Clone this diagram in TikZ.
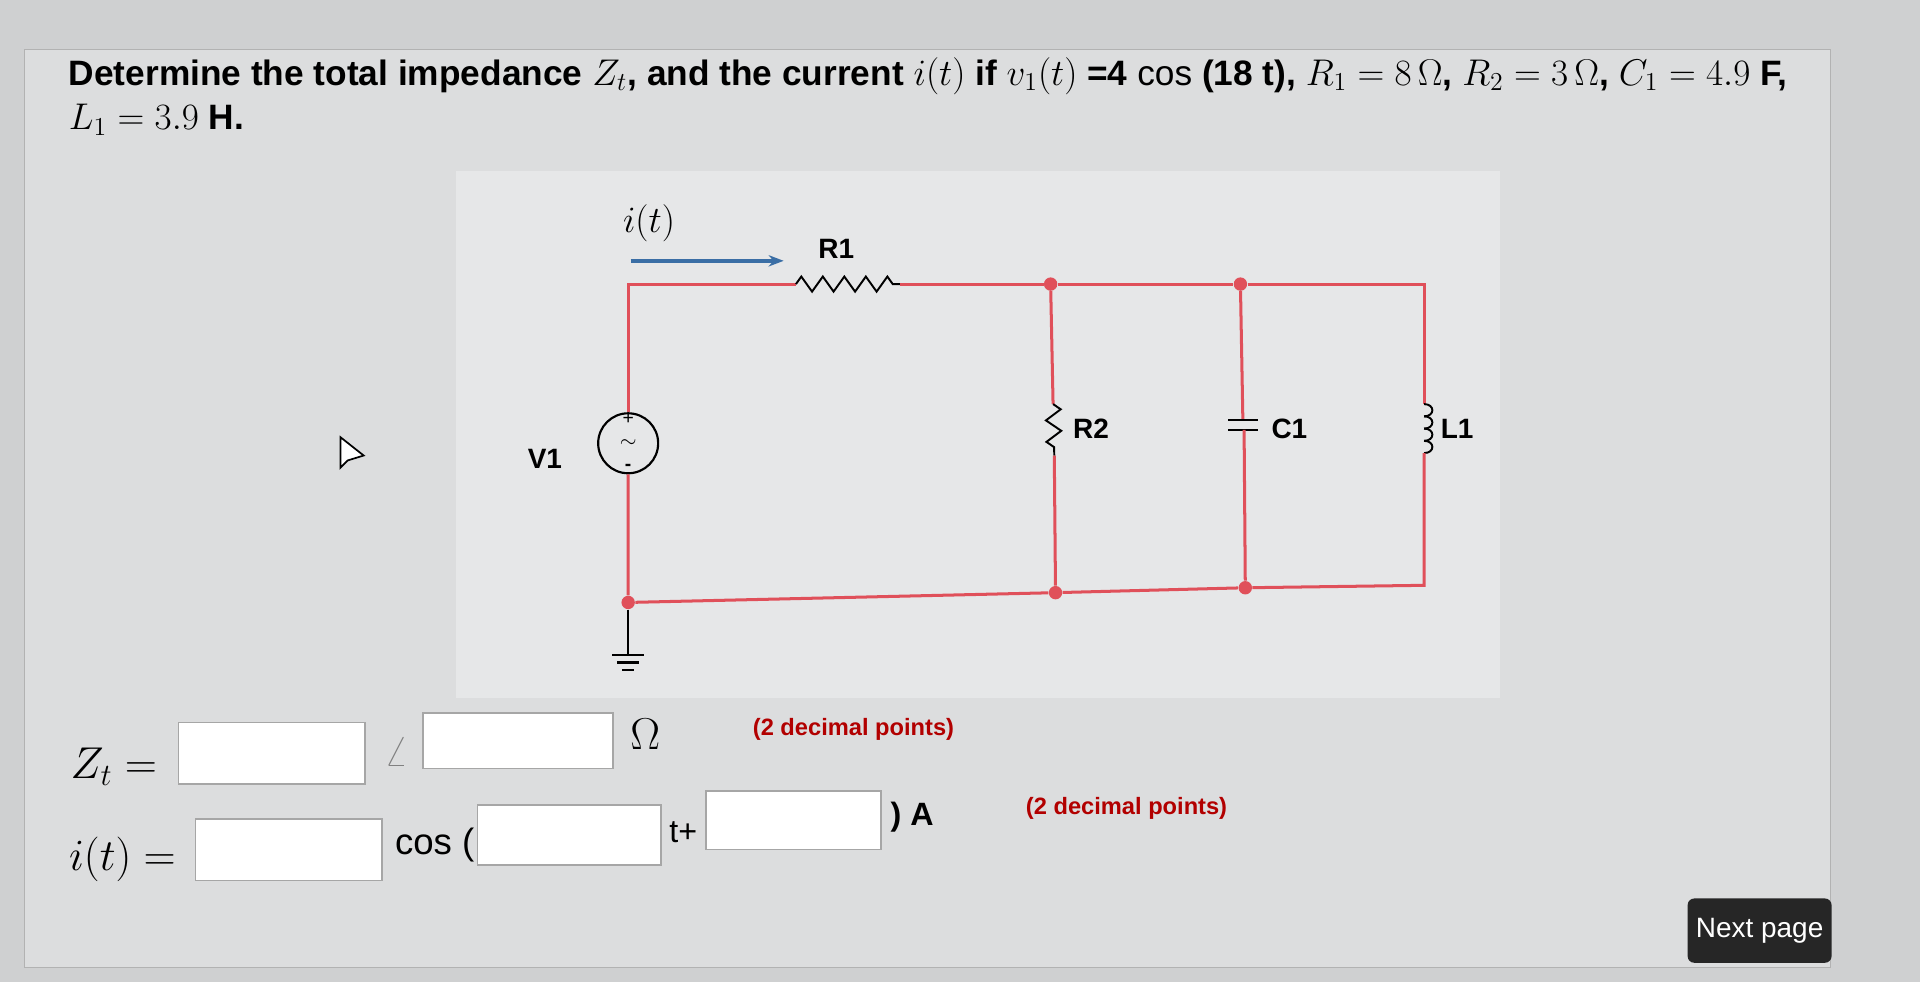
\documentclass[tikz,border=0pt]{standalone}
\usepackage{fontspec}
\setmainfont{Liberation Sans}
\usetikzlibrary{decorations.pathmorphing,arrows.meta}
\definecolor{wire}{HTML}{E0505A}
\definecolor{bg}{HTML}{CFD0D1}
\definecolor{panel}{HTML}{DCDDDE}
\definecolor{cbox}{HTML}{E6E7E8}
\definecolor{arrowblue}{HTML}{3A6EA5}
\tikzset{
  px/.style={x=0.02cm,y=-0.02cm},
  w/.style={wire,line width=1.4pt},
  dotn/.style={circle,fill=wire,inner sep=2.2pt},
  lbl/.style={font=\bfseries\fontsize{13}{13}\selectfont},
  ans/.style={draw=gray!70,fill=white,line width=0.8pt},
  red/.style={font=\bfseries\fontsize{11}{11}\selectfont,text=red!70!black},
  zz/.style={black,line width=0.9pt,decorate,decoration={zigzag,segment length=10pt,amplitude=3.5pt}}
}
\begin{document}
\begin{tikzpicture}[px]
\fill[bg] (0,0) rectangle (1568,802);
\useasboundingbox (0,0) rectangle (1568,802);
\fill[panel] (20,40) rectangle (1495,790);
\draw[gray!60] (20,40) rectangle (1495,790);
\node[anchor=west,font=\bfseries\fontsize{16.4}{16.4}\selectfont] (t1) at (50,62) {Determine the total impedance $Z_t$, and the current $i(t)$ if $v_1(t)$ =4 $\cos$ (18 t), $R_1=8\,\Omega$, $R_2=3\,\Omega$, $C_1=4.9$ F,};
\node[anchor=west,font=\bfseries\fontsize{16.4}{16.4}\selectfont] (t2) at (50,98) {$L_1=3.9$ H.};
\fill[cbox] (372,140) rectangle (1225,570);
\coordinate (tl) at (513,232); \coordinate (tr) at (1163,232);
\coordinate (bl) at (513,490); \coordinate (br) at (1163,478);
\node[dotn] (d1) at (858,232) {}; \node[dotn] (d2) at (1013,232) {};
\node[dotn] (d3) at (862,484) {}; \node[dotn] (d4) at (1017,480) {};
\node[dotn] (d5) at (513,492) {};
\node[circle,draw=black,line width=1pt,minimum size=0.98cm,inner sep=0pt] (v1) at (513,362) {$\sim$};
\node[font=\fontsize{9}{9}\selectfont] at (513,342) {+};
\node[font=\bfseries\fontsize{9}{9}\selectfont] at (513,382) {-};
\draw[w] (v1.north) -- (tl) -- (650,232);
\draw[zz] (650,232) -- (735,232);
\draw[w] (735,232) -- (d1) -- (d2) -- (tr) -- (1163,330);
\foreach \k in {0,1,2,3}{\draw[black,line width=0.9pt] (1163,330+10*\k) .. controls (1172,330+10*\k) and (1172,340+10*\k) .. (1163,340+10*\k);}
\draw[w] (1163,370) -- (br) -- (d4) -- (d3) -- (d5) -- (v1.south);
\draw[w] (d1) -- (860,330);
\draw[zz] (860,330) -- (861,372);
\draw[w] (861,372) -- (d3);
\draw[w] (d2) -- (1015,343);
\draw[black,line width=1.2pt] (1003,343) -- (1027,343) (1003,351) -- (1027,351);
\draw[w] (1016,351) -- (d4);
\draw[black,line width=1pt] (d5) -- (513,535);
\draw[black,line width=1pt] (500,535) -- (526,535) (504,541) -- (522,541) (508,547) -- (518,547);
\node[lbl] (r1) at (683,203) {R1};
\node[lbl] (r2) at (891,350) {R2};
\node[lbl] (c1) at (1053,350) {C1};
\node[lbl] (l1) at (1190,350) {L1};
\node[lbl] (vl) at (445,375) {V1};
\coordinate (a1) at (515,213); \coordinate (a2) at (640,213);
\draw[arrowblue,line width=1.6pt,-{Stealth[length=7pt]}] (a1) -- (a2);
\node[font=\fontsize{19}{19}\selectfont] (it) at (530,182) {$i(t)$};
\draw[black,fill=white,line width=0.8pt] (278,357) -- (278,382) -- (284,376) -- (297,372) -- cycle;
\node[font=\fontsize{20}{20}\selectfont] (zt) at (93,626) {$Z_t=$};
\node[ans,minimum width=3.05cm,minimum height=1cm] (b1) at (222,615) {};
\node[font=\fontsize{20}{20}\selectfont,text=gray] (ang) at (324,614) {$\angle$};
\node[ans,minimum width=3.1cm,minimum height=0.9cm] (b2) at (423,605) {};
\node[font=\fontsize{20}{20}\selectfont] (om) at (527,600) {$\Omega$};
\node[red] (dp1) at (697,596) {(2 decimal points)};
\node[font=\fontsize{20}{20}\selectfont] (itl) at (100,702) {$i(t)=$};
\node[ans,minimum width=3.05cm,minimum height=1cm] (b3) at (236,694) {};
\node[font=\fontsize{17}{17}\selectfont] (cs) at (355,690) {cos (};
\node[ans,minimum width=3cm,minimum height=0.98cm] (b4) at (465,682) {};
\node[font=\fontsize{15}{15}\selectfont] (tp) at (558,680) {t+};
\node[ans,minimum width=2.85cm,minimum height=0.95cm] (b5) at (648,670) {};
\node[font=\bfseries\fontsize{15}{15}\selectfont] (pa) at (745,667) {) A};
\node[red] (dp2) at (920,660) {(2 decimal points)};
\node[fill=black!85,text=white,rounded corners=3pt,minimum width=2.35cm,minimum height=1.05cm,font=\fontsize{13}{13}\selectfont] (np) at (1437,760) {Next page};
\end{tikzpicture}
\end{document}
